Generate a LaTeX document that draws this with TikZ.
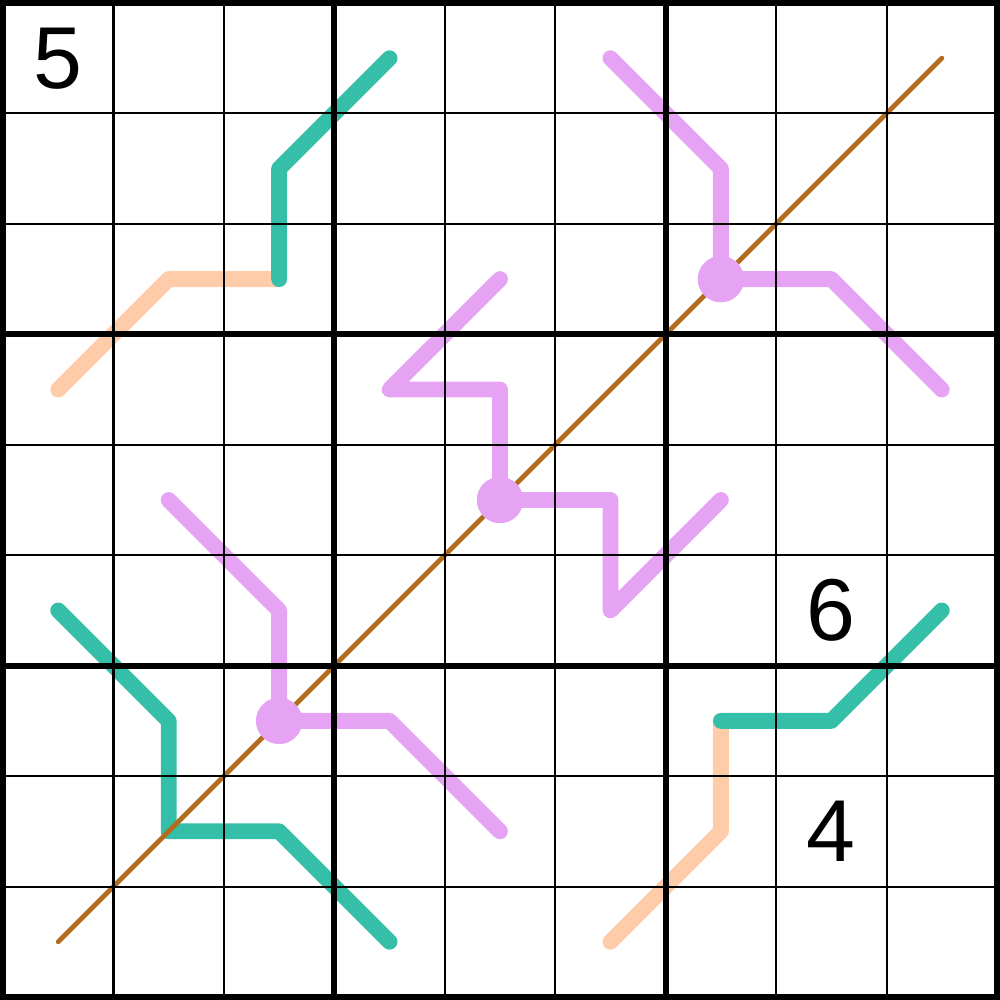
\documentclass[tikz,border=0pt]{standalone}
\usepackage{fontspec}
\setmainfont{Liberation Sans}
\definecolor{teal1}{HTML}{35BFA8}
\definecolor{peach}{HTML}{FFCCAA}
\definecolor{pinkl}{HTML}{E6A3F4}
\definecolor{brown1}{HTML}{B26C1C}
\tikzset{
  thin grid/.style={line width=0.6pt,black},
  thick grid/.style={line width=1.7pt,black},
  pathline/.style={line width=4.5pt,line cap=round,line join=round},
  digit/.style={font=\fontsize{25}{30}\selectfont,inner sep=0pt}
}
\begin{document}
\begin{tikzpicture}[x=1.1044cm,y=-1.1044cm]
\useasboundingbox (-0.02716,-0.02716) rectangle (9.02716,9.02716);
\fill[white] (-0.02716,-0.02716) rectangle (9.02716,9.02716);
% peach paths
\draw[pathline,peach] (2.5,2.5) -- (1.5,2.5) -- (0.5,3.5);
\draw[pathline,peach] (6.5,6.5) -- (6.5,7.5) -- (5.5,8.5);
% teal paths
\draw[pathline,teal1] (3.5,0.5) -- (2.5,1.5) -- (2.5,2.5);
\draw[pathline,teal1] (0.5,5.5) -- (1.5,6.5) -- (1.5,7.5) -- (2.5,7.5) -- (3.5,8.5);
\draw[pathline,teal1] (8.5,5.5) -- (7.5,6.5) -- (6.5,6.5);
% brown diagonal
\draw[line width=1.4pt,brown1,line cap=round] (0.5,8.5) -- (8.5,0.5);
% pink paths
\draw[pathline,pinkl] (5.5,0.5) -- (6.5,1.5) -- (6.5,2.5) -- (7.5,2.5) -- (8.5,3.5);
\draw[pathline,pinkl] (4.5,2.5) -- (3.5,3.5) -- (4.5,3.5) -- (4.5,4.5) -- (5.5,4.5) -- (5.5,5.5) -- (6.5,4.5);
\draw[pathline,pinkl] (1.5,4.5) -- (2.5,5.5) -- (2.5,6.5) -- (3.5,6.5) -- (4.5,7.5);
\fill[pinkl] (6.5,2.5) circle (0.21);
\fill[pinkl] (4.5,4.5) circle (0.21);
\fill[pinkl] (2.5,6.5) circle (0.21);
% thin grid
\foreach \i in {1,2,4,5,7,8}{
  \draw[thin grid] (\i,0) -- (\i,9);
  \draw[thin grid] (0,\i) -- (9,\i);
}
% thick grid
\foreach \i in {3,6}{
  \draw[thick grid] (\i,0) -- (\i,9);
  \draw[thick grid] (0,\i) -- (9,\i);
}
\draw[line width=1.7pt,black] (0,0) rectangle (9,9);
% digits
\node[digit] (n5) at (0.5,0.5) {5};
\node[digit] (n6) at (7.5,5.5) {6};
\node[digit] (n4) at (7.5,7.5) {4};
\end{tikzpicture}
\end{document}
